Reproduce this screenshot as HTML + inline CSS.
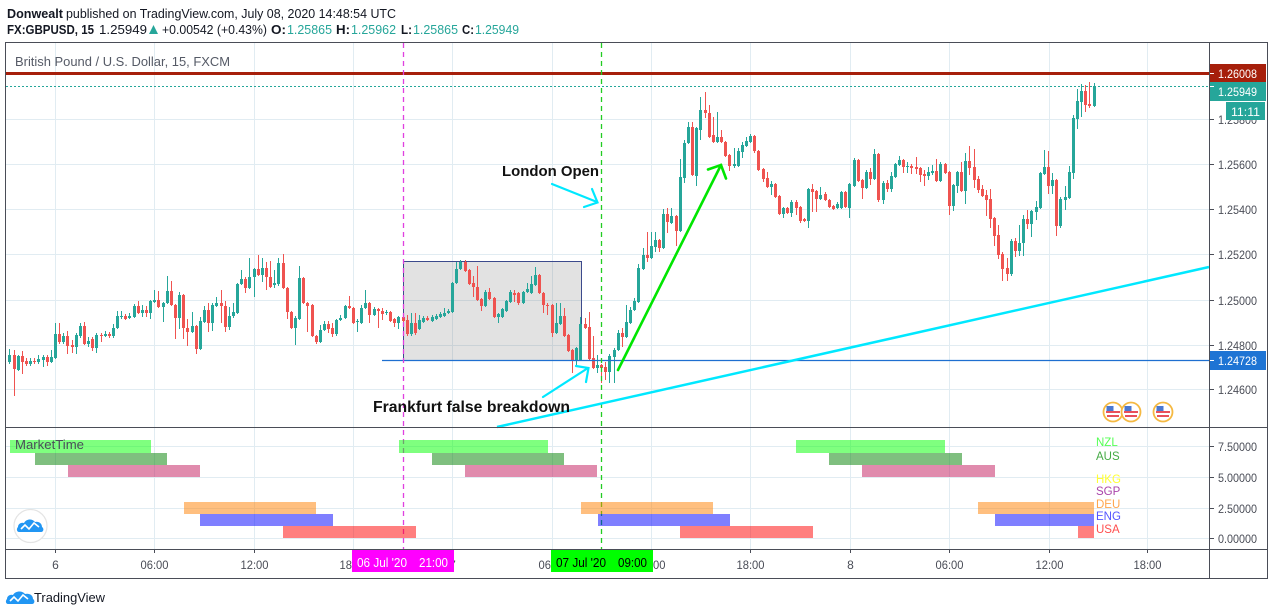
<!DOCTYPE html>
<html><head><meta charset="utf-8">
<style>
html,body{margin:0;padding:0;background:#fff;}
svg{display:block;font-family:"Liberation Sans",sans-serif;}
</style></head><body>
<svg id="s" width="1274" height="615" viewBox="0 0 1274 615" xmlns="http://www.w3.org/2000/svg">
<rect x="0" y="0" width="1274" height="615" fill="#fff"/>
<!-- header -->
<g font-size="13" fill="#131722">
<text x="7" y="18" font-weight="bold" textLength="56" lengthAdjust="spacingAndGlyphs">Donwealt</text>
<text x="66" y="18" textLength="330" lengthAdjust="spacingAndGlyphs">published on TradingView.com, July 08, 2020 14:48:54 UTC</text>
<text x="7" y="34" font-weight="bold" textLength="87" lengthAdjust="spacingAndGlyphs">FX:GBPUSD, 15</text>
<text x="99" y="34" textLength="48" lengthAdjust="spacingAndGlyphs">1.25949</text>
<text x="162" y="34" textLength="105" lengthAdjust="spacingAndGlyphs">+0.00542 (+0.43%)</text>
<text x="271" y="34" font-weight="bold" textLength="15" lengthAdjust="spacingAndGlyphs">O:</text>
<text x="287" y="34" fill="#26a69a" textLength="45" lengthAdjust="spacingAndGlyphs">1.25865</text>
<text x="336" y="34" font-weight="bold" textLength="14" lengthAdjust="spacingAndGlyphs">H:</text>
<text x="351" y="34" fill="#26a69a" textLength="45" lengthAdjust="spacingAndGlyphs">1.25962</text>
<text x="401" y="34" font-weight="bold" textLength="11" lengthAdjust="spacingAndGlyphs">L:</text>
<text x="413" y="34" fill="#26a69a" textLength="45" lengthAdjust="spacingAndGlyphs">1.25865</text>
<text x="462" y="34" font-weight="bold" textLength="12" lengthAdjust="spacingAndGlyphs">C:</text>
<text x="475" y="34" fill="#26a69a" textLength="44" lengthAdjust="spacingAndGlyphs">1.25949</text>
</g>
<polygon points="149,34 158,34 153.5,25" fill="#26a69a"/>

<!-- grid -->
<g stroke="#e1ecf2" stroke-width="1">
<line x1="6" x2="1209" y1="119.5" y2="119.5"/>
<line x1="6" x2="1209" y1="164.5" y2="164.5"/>
<line x1="6" x2="1209" y1="209.5" y2="209.5"/>
<line x1="6" x2="1209" y1="254.5" y2="254.5"/>
<line x1="6" x2="1209" y1="300.5" y2="300.5"/>
<line x1="6" x2="1209" y1="345.5" y2="345.5"/>
<line x1="6" x2="1209" y1="389.5" y2="389.5"/>
<line x1="6" x2="1209" y1="446.5" y2="446.5"/>
<line x1="6" x2="1209" y1="477.5" y2="477.5"/>
<line x1="6" x2="1209" y1="508.5" y2="508.5"/>
<line x1="6" x2="1209" y1="538.5" y2="538.5"/>
<line x1="55.5" x2="55.5" y1="43" y2="549"/>
<line x1="154.5" x2="154.5" y1="43" y2="549"/>
<line x1="254.5" x2="254.5" y1="43" y2="549"/>
<line x1="353.5" x2="353.5" y1="43" y2="549"/>
<line x1="452.5" x2="452.5" y1="43" y2="549"/>
<line x1="552.5" x2="552.5" y1="43" y2="549"/>
<line x1="651.5" x2="651.5" y1="43" y2="549"/>
<line x1="750.5" x2="750.5" y1="43" y2="549"/>
<line x1="850.5" x2="850.5" y1="43" y2="549"/>
<line x1="949.5" x2="949.5" y1="43" y2="549"/>
<line x1="1049.5" x2="1049.5" y1="43" y2="549"/>
<line x1="1147.5" x2="1147.5" y1="43" y2="549"/>
</g>

<!-- title -->
<text x="15" y="66" font-size="13" fill="#555a66" textLength="215" lengthAdjust="spacingAndGlyphs">British Pound / U.S. Dollar, 15, FXCM</text>

<!-- gray rectangle -->
<rect x="403.5" y="261.5" width="178" height="99" fill="rgba(110,110,110,0.2)" stroke="#3c4a8c" stroke-width="1"/>

<!-- candles -->
<g id="candles"></g>

<!-- horizontal lines -->
<line x1="382" x2="1209" y1="360.5" y2="360.5" stroke="#1e6fd0" stroke-width="1.3"/>
<line x1="6" x2="1209" y1="73.5" y2="73.5" stroke="#a61f0b" stroke-width="3"/>
<line x1="6" x2="1209" y1="86.5" y2="86.5" stroke="#26a69a" stroke-width="1" stroke-dasharray="2,2"/>

<!-- vertical dashed -->
<line x1="403.5" x2="403.5" y1="43" y2="549" stroke="#e040e0" stroke-width="1.3" stroke-dasharray="5,4"/>
<line x1="601.5" x2="601.5" y1="43" y2="549" stroke="#22cc22" stroke-width="1.3" stroke-dasharray="5,4"/>

<!-- trend line -->
<line x1="497" y1="427" x2="1209" y2="267" stroke="#00e8ff" stroke-width="2.5"/>

<!-- arrows -->
<g stroke="#00e8ff" stroke-width="2.2" fill="none" stroke-linecap="round">
<line x1="552" y1="184" x2="597" y2="202"/>
<polyline points="592,189 597.5,202.5 584,207"/>
<line x1="543" y1="397" x2="588" y2="368"/>
<polyline points="576,366 588.5,368 586,382"/>
</g>
<g stroke="#00e600" stroke-width="2.6" fill="none" stroke-linecap="round">
<line x1="618" y1="370" x2="721" y2="165"/>
<polyline points="708,169.5 721,165 726,178.5"/>
</g>

<!-- annotations -->
<text x="502" y="176" font-size="15" font-weight="bold" fill="#111" textLength="97" lengthAdjust="spacingAndGlyphs">London Open</text>
<text x="373" y="412" font-size="15.5" font-weight="bold" fill="#111" textLength="197" lengthAdjust="spacingAndGlyphs">Frankfurt false breakdown</text>

<!-- flag icons -->
<g id="flags"></g>

<!-- lower pane bars -->
<g>
<rect x="10" y="440" width="141" height="13" fill="rgba(0,255,0,0.5)"/>
<rect x="399" y="440" width="149" height="13" fill="rgba(0,255,0,0.5)"/>
<rect x="796" y="440" width="149" height="13" fill="rgba(0,255,0,0.5)"/>
<rect x="35" y="453" width="132" height="12" fill="rgba(0,128,0,0.5)"/>
<rect x="432" y="453" width="132" height="12" fill="rgba(0,128,0,0.5)"/>
<rect x="829" y="453" width="133" height="12" fill="rgba(0,128,0,0.5)"/>
<rect x="68" y="465" width="132" height="12" fill="rgba(194,24,91,0.5)"/>
<rect x="465" y="465" width="132" height="12" fill="rgba(194,24,91,0.5)"/>
<rect x="862" y="465" width="133" height="12" fill="rgba(194,24,91,0.5)"/>
<rect x="184" y="502" width="132" height="12" fill="rgba(255,128,0,0.5)"/>
<rect x="581" y="502" width="132" height="12" fill="rgba(255,128,0,0.5)"/>
<rect x="978" y="502" width="116" height="12" fill="rgba(255,128,0,0.5)"/>
<rect x="200" y="514" width="133" height="12" fill="rgba(0,0,255,0.5)"/>
<rect x="598" y="514" width="132" height="12" fill="rgba(0,0,255,0.5)"/>
<rect x="995" y="514" width="99" height="12" fill="rgba(0,0,255,0.5)"/>
<rect x="283" y="526" width="133" height="12" fill="rgba(255,0,0,0.5)"/>
<rect x="680" y="526" width="133" height="12" fill="rgba(255,0,0,0.5)"/>
<rect x="1078" y="526" width="16" height="12" fill="rgba(255,0,0,0.5)"/>
</g>
<text x="15" y="449" font-size="13" fill="#4a4e59" textLength="69" lengthAdjust="spacingAndGlyphs">MarketTime</text>
<g font-size="11.5">
<text x="1096" y="446" fill="#55ff55">NZL</text>
<text x="1096" y="460" fill="#44aa44">AUS</text>
<text x="1096" y="483" fill="#ffff33">HKG</text>
<text x="1096" y="495" fill="#aa44aa">SGP</text>
<text x="1096" y="508" fill="#ffa64d">DEU</text>
<text x="1096" y="520" fill="#5555ff">ENG</text>
<text x="1096" y="533" fill="#ff4d4d">USA</text>
</g>

<!-- watermark -->
<circle cx="30.5" cy="526" r="16.5" fill="#fff" stroke="#e4e4e4" stroke-width="1.2"/>
<path d="M19,532 C17,532 16,529 18,527 C18,524 21,522 24,523 C26,519 32,518 35,522 C38,521 42,523 42,527 C44,528 44,532 41,532 Z" fill="#2196f3"/>
<polyline points="21,529 25,525 29,529 34,523 39,527" fill="none" stroke="#fff" stroke-width="1.6"/>

<!-- frame -->
<g stroke="#4a4d57" stroke-width="1" fill="none">
<rect x="5.5" y="42.5" width="1262" height="536"/>
<line x1="1209.5" x2="1209.5" y1="43" y2="578"/>
<line x1="6" x2="1267" y1="427.5" y2="427.5"/>
<line x1="6" x2="1267" y1="549.5" y2="549.5"/>
</g>

<!-- price axis -->
<g stroke="#4a4d57" stroke-width="1">
<line x1="1210" x2="1214" y1="119.5" y2="119.5"/>
<line x1="1210" x2="1214" y1="164.5" y2="164.5"/>
<line x1="1210" x2="1214" y1="209.5" y2="209.5"/>
<line x1="1210" x2="1214" y1="254.5" y2="254.5"/>
<line x1="1210" x2="1214" y1="300.5" y2="300.5"/>
<line x1="1210" x2="1214" y1="345.5" y2="345.5"/>
<line x1="1210" x2="1214" y1="389.5" y2="389.5"/>
<line x1="1210" x2="1214" y1="446.5" y2="446.5"/>
<line x1="1210" x2="1214" y1="477.5" y2="477.5"/>
<line x1="1210" x2="1214" y1="508.5" y2="508.5"/>
<line x1="1210" x2="1214" y1="538.5" y2="538.5"/>
</g>
<g font-size="12" fill="#4a4d57">
<text x="1218" y="124" textLength="39" lengthAdjust="spacingAndGlyphs">1.25800</text>
<text x="1218" y="169" textLength="39" lengthAdjust="spacingAndGlyphs">1.25600</text>
<text x="1218" y="214" textLength="39" lengthAdjust="spacingAndGlyphs">1.25400</text>
<text x="1218" y="259" textLength="39" lengthAdjust="spacingAndGlyphs">1.25200</text>
<text x="1218" y="305" textLength="39" lengthAdjust="spacingAndGlyphs">1.25000</text>
<text x="1218" y="350" textLength="39" lengthAdjust="spacingAndGlyphs">1.24800</text>
<text x="1218" y="394" textLength="39" lengthAdjust="spacingAndGlyphs">1.24600</text>
<text x="1218" y="451" textLength="39" lengthAdjust="spacingAndGlyphs">7.50000</text>
<text x="1218" y="482" textLength="39" lengthAdjust="spacingAndGlyphs">5.00000</text>
<text x="1218" y="513" textLength="39" lengthAdjust="spacingAndGlyphs">2.50000</text>
<text x="1218" y="543" textLength="39" lengthAdjust="spacingAndGlyphs">0.00000</text>
</g>
<rect x="1210" y="64" width="56" height="18" fill="#a61f0b"/>
<rect x="1210" y="82" width="56" height="19" fill="#26a69a"/>
<rect x="1226" y="102" width="39" height="18" fill="#26a69a"/>
<rect x="1210" y="351" width="56" height="19" fill="#1e74d4"/>
<g font-size="12" fill="#fff">
<line x1="1210" x2="1214" y1="73.5" y2="73.5" stroke="#fff"/>
<line x1="1210" x2="1214" y1="86.5" y2="86.5" stroke="#fff"/>
<line x1="1210" x2="1214" y1="360.5" y2="360.5" stroke="#fff"/>
<text x="1218" y="78" textLength="39" lengthAdjust="spacingAndGlyphs">1.26008</text>
<text x="1218" y="96" textLength="39" lengthAdjust="spacingAndGlyphs">1.25949</text>
<text x="1231" y="116" textLength="29" lengthAdjust="spacingAndGlyphs">11:11</text>
<text x="1218" y="365" textLength="39" lengthAdjust="spacingAndGlyphs">1.24728</text>
</g>

<!-- time axis -->
<g stroke="#4a4d57" stroke-width="1">
<line x1="55.5" x2="55.5" y1="550" y2="553"/>
<line x1="154.5" x2="154.5" y1="550" y2="553"/>
<line x1="254.5" x2="254.5" y1="550" y2="553"/>
<line x1="353.5" x2="353.5" y1="550" y2="553"/>
<line x1="452.5" x2="452.5" y1="550" y2="553"/>
<line x1="552.5" x2="552.5" y1="550" y2="553"/>
<line x1="651.5" x2="651.5" y1="550" y2="553"/>
<line x1="750.5" x2="750.5" y1="550" y2="553"/>
<line x1="850.5" x2="850.5" y1="550" y2="553"/>
<line x1="949.5" x2="949.5" y1="550" y2="553"/>
<line x1="1049.5" x2="1049.5" y1="550" y2="553"/>
<line x1="1147.5" x2="1147.5" y1="550" y2="553"/>
</g>
<g font-size="12" fill="#4a4d57" text-anchor="middle">
<text x="55.5" y="569">6</text>
<text x="154.5" y="569" textLength="28" lengthAdjust="spacingAndGlyphs">06:00</text>
<text x="254.5" y="569" textLength="28" lengthAdjust="spacingAndGlyphs">12:00</text>
<text x="353.5" y="569" textLength="28" lengthAdjust="spacingAndGlyphs">18:00</text>
<text x="452.5" y="569">7</text>
<text x="552.5" y="569" textLength="28" lengthAdjust="spacingAndGlyphs">06:00</text>
<text x="651.5" y="569" textLength="28" lengthAdjust="spacingAndGlyphs">12:00</text>
<text x="750.5" y="569" textLength="28" lengthAdjust="spacingAndGlyphs">18:00</text>
<text x="850.5" y="569">8</text>
<text x="949.5" y="569" textLength="28" lengthAdjust="spacingAndGlyphs">06:00</text>
<text x="1049.5" y="569" textLength="28" lengthAdjust="spacingAndGlyphs">12:00</text>
<text x="1147.5" y="569" textLength="28" lengthAdjust="spacingAndGlyphs">18:00</text>
</g>
<rect x="352" y="550" width="102" height="22" fill="#ff00ff"/>
<text x="357" y="567" font-size="13" fill="#fff" textLength="50" lengthAdjust="spacingAndGlyphs">06 Jul '20</text>
<text x="419" y="567" font-size="13" fill="#fff" textLength="29" lengthAdjust="spacingAndGlyphs">21:00</text>
<rect x="551" y="550" width="102" height="22" fill="#00ff00"/>
<text x="556" y="567" font-size="13" fill="#000" textLength="50" lengthAdjust="spacingAndGlyphs">07 Jul '20</text>
<text x="618" y="567" font-size="13" fill="#000" textLength="29" lengthAdjust="spacingAndGlyphs">09:00</text>

<!-- bottom logo -->
<path d="M8,604 C6,604 5,601 7,599 C7,596 10,594 13,595 C15,591 22,590 25,594 C29,593 33,595 33,599 C35,600 35,604 32,604 Z" fill="#2196f3"/>
<polyline points="10,601 14,597 18,601 23,595 28,599" fill="none" stroke="#fff" stroke-width="1.6"/>
<text x="34" y="602" font-size="13" fill="#131722" textLength="71" lengthAdjust="spacingAndGlyphs">TradingView</text>
</svg>
<script>
(function(){
var NS="http://www.w3.org/2000/svg";
var S="u355,362,349,364 d355,369,350,396 u356,370,355,371 d356,362,351,374 d361,364,358,366 u361,364,358,366 d361,362,358,364 u359,362,355,364 u357,360,355,367 d357,362,355,366 u357,362,350,363 "+
"u334,358,323,359 d334,342,323,344 u336,342,333,344 d336,346,331,354 d345,347,340,353 u335,347,333,354 u326,336,323,338 d326,344,322,345 u341,344,337,347 d339,348,337,351 "+
"u335,348,333,353 d335,336,333,342 u334,336,331,337 d334,336,332,338 u328,336,324,338 u316,328,311,329 u316,317,311,319 d316,319,314,320 u316,318,313,319 u306,317,304,318 "+
"d306,313,301,314 u310,313,305,317 d310,313,306,317 u301,313,300,319 u300,302,290,303 d300,307,291,308 u303,307,302,322 u291,303,276,304 d291,305,281,306 d305,318,304,339 "+
"u295,318,292,329 d295,328,294,339 d328,332,319,346 u326,332,312,333 d326,349,325,354 u321,349,317,350 u310,322,306,323 d310,323,303,332 u305,323,303,331 u303,306,297,307 "+
"d303,306,290,323 d306,327,301,332 u316,327,307,330 u312,316,303,318 u284,313,283,314 u279,284,270,285 d279,288,277,293 u277,288,258,289 u269,277,268,297 d269,275,255,276 "+
"u268,275,258,282 d268,277,262,290 d277,287,261,288 u283,285,270,288 u263,284,258,286 d263,288,254,289 d288,312,287,319 d312,328,311,329 u318,328,316,345 u278,319,266,320 "+
"d278,303,277,304 d303,306,302,332 d305,336,304,337 d336,342,335,344 u330,342,325,343 u324,330,321,331 d324,329,321,333 d328,334,323,337 u320,334,319,336 u318,320,315,321 "+
"u306,318,305,319 d306,308,296,309 d308,323,307,324 u321,322,319,332 u308,323,305,324 u303,308,290,309 d303,315,302,323 u309,315,307,316 d309,311,308,328 d311,314,308,320 "+
"u312,313,310,315 d312,321,311,322 d319,323,318,327 u317,323,316,329 d317,321,315,324 d320,334,315,336 u323,334,313,336 d323,333,313,335 u320,329,315,330 u318,322,316,323 "+
"d318,320,316,321 u317,321,315,322 u316,319,314,320 u314,317,312,318 u313,316,308,317 u311,313,309,314 u283,312,282,313 u269,283,262,284 u262,269,260,270 d262,271,260,272 "+
"d270,284,269,285 d283,287,276,297 d287,300,266,301 d299,306,298,311 u292,306,290,307 d292,299,288,300 d298,317,297,318 u314,317,313,323 u309,317,308,318 u301,311,300,312 "+
"u292,302,290,303 d293,295,290,302 d293,303,292,305 u292,303,291,304 u289,292,283,293 u284,293,276,294 u275,285,267,286 d275,293,274,294 d293,305,292,313 d305,306,303,315 "+
"d305,333,304,337 u323,333,303,334 u316,324,303,325 d316,336,308,337 d335,351,334,352 d350,360,349,373 u348,360,347,367 u324,360,317,361 d324,328,318,329 d327,359,312,360 "+
"d358,368,336,369 u365,368,355,373 d365,368,364,383 d367,372,362,380 u356,372,354,383 u350,357,348,383 u333,350,330,351 d333,337,328,347 u322,337,305,338 u310,323,307,324 "+
"u301,310,298,311 u268,302,264,303 u255,269,248,270 d255,258,232,262 u246,258,232,259 u240,247,232,252 d240,248,239,252 u214,248,209,249 d214,222,208,233 u216,223,208,224 "+
"d216,231,215,246 u177,231,159,232 u143,178,140,183 u127,143,122,144 d127,175,122,176 u128,176,127,186 u110,130,97,140 d110,113,92,118 d113,137,105,138 d135,142,117,143 "+
"u137,142,112,143 d137,142,130,143 d142,156,141,157 d155,166,154,171 u164,166,148,168 u151,166,148,167 u145,152,142,158 u141,146,137,147 u136,142,134,143 d136,151,135,153 "+
"d151,170,150,171 d169,179,168,182 d178,187,172,188 u184,187,181,195 d184,197,183,198 d196,214,195,215 u208,214,207,218 d208,213,207,214 u202,213,200,217 d202,208,200,215 "+
"d207,221,206,223 d219,221,218,222 u189,221,188,228 d189,192,184,212 d191,199,190,212 u195,199,187,200 d194,200,192,201 d200,207,199,208 d206,209,205,210 u204,208,202,209 "+
"u192,208,191,209 d192,207,191,208 u184,208,183,218 u160,186,158,187 d160,181,159,182 d180,188,179,199 u172,188,170,189 d172,179,168,185 u154,179,149,180 d154,200,153,202 "+
"u183,200,181,204 d183,189,180,192 u176,189,172,192 u164,177,163,178 u160,165,156,166 d160,167,159,173 u166,167,162,173 d166,168,164,174 d167,169,157,174 d168,175,167,182 "+
"d174,176,170,186 u172,176,167,180 u171,173,165,175 d171,181,159,182 u164,181,162,182 d164,173,163,174 d172,206,171,215 u185,206,184,211 u172,186,171,193 d172,191,162,192 "+
"u161,191,153,204 d161,168,146,175 d167,180,149,188 d179,190,176,193 d189,196,185,197 d195,200,190,216 d199,219,189,228 d218,236,217,246 d235,255,225,259 d254,269,252,281 "+
"d268,274,258,281 u241,274,239,276 d241,251,238,257 u243,251,225,256 u219,243,215,256 d219,224,210,229 u211,224,210,237 u207,212,201,220 u173,208,172,209 u167,174,150,175 "+
"d167,186,151,194 u180,186,173,194 d180,226,179,236 u199,226,197,228 u197,200,186,210 u172,198,166,199 u118,173,115,179 u101,119,89,129 u91,102,84,117 d91,105,85,112 "+
"d104,106,82,108 u86,106,83,107";
var A=S.split(" "),g=document.getElementById("candles");
for(var k=0;k<A.length;k++){
 var c=A[k].charAt(0)=="u"?"#26a69a":"#ef5350";
 var v=A[k].substring(1).split(",").map(Number);
 var i=k-11, xc=Math.round(55+i*4.1375);
 var t=v[0],b=v[1]; if(b-t<1)b=t+1;
 var ln=document.createElementNS(NS,"rect");
 ln.setAttribute("x",xc);ln.setAttribute("y",v[2]);ln.setAttribute("width",1);ln.setAttribute("height",Math.max(1,v[3]-v[2]));ln.setAttribute("fill",c);
 g.appendChild(ln);
 var r=document.createElementNS(NS,"rect");
 r.setAttribute("x",xc-1);r.setAttribute("y",t);r.setAttribute("width",3);r.setAttribute("height",b-t);r.setAttribute("fill",c);
 g.appendChild(r);
}
var f=document.getElementById("flags"),P=[[1113,412],[1131,412],[1163,412]];
P.forEach(function(p){
 var x=p[0],y=p[1],s='';
 s+='<circle cx="'+x+'" cy="'+y+'" r="9.5" fill="#fff" stroke="#f5b942" stroke-width="1.8"/>';
 s+='<rect x="'+(x-7)+'" y="'+(y-1)+'" width="14" height="2" fill="#e8505b"/>';
 s+='<rect x="'+(x-6)+'" y="'+(y+3)+'" width="12" height="2" fill="#e8505b"/>';
 s+='<rect x="'+(x-6.5)+'" y="'+(y-6)+'" width="7" height="5" fill="#4a78d0"/>';
 var tmp=document.createElementNS(NS,"g");tmp.innerHTML=s;f.appendChild(tmp);
});
})();
</script>
</body></html>
